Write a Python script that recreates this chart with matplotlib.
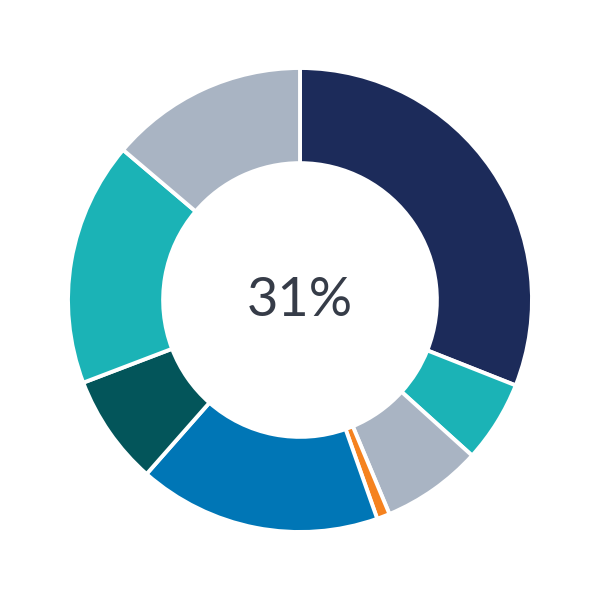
import matplotlib.pyplot as plt

labels = ['A', 'B', 'C', 'D', 'E', 'F', 'G', 'H']
values = [31.0, 5.7, 7.0, 0.9, 16.9, 7.7, 17.0, 13.8]
colors = ['#1c2b5a', '#1bb3b6', '#a9b4c3', '#f5821f', '#0076b6',
          '#03555a', '#1bb3b6', '#a9b4c3']
center_text = '31%'

fig = plt.figure(figsize=(6, 6), dpi=100)
ax = fig.add_axes([0, 0, 1, 1])

ax.pie(values, colors=colors, startangle=90, counterclock=False, radius=1.0,
       wedgeprops=dict(width=0.41, edgecolor='white', linewidth=2.8))
ax.text(0, 0, center_text, ha='center', va='center', fontsize=39,
        color='#363c48', family='Lato', fontweight='normal')

lim = 300 / 232
ax.set_xlim(-lim, lim)
ax.set_ylim(-lim, lim)
ax.set_aspect('equal')
ax.axis('off')

fig.savefig('out.png', dpi=100, facecolor='white')
